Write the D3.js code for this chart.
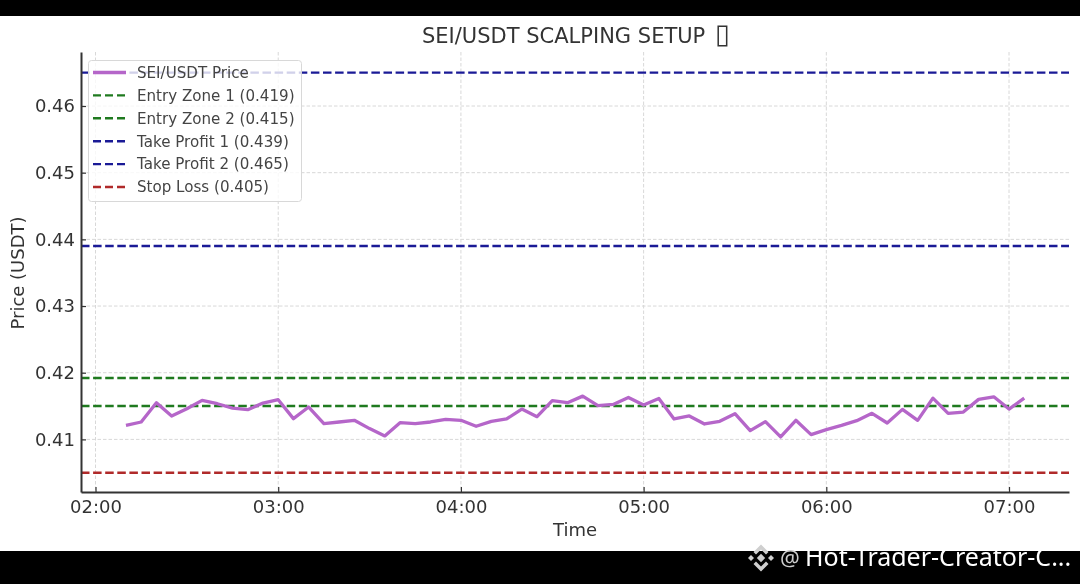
<!DOCTYPE html>
<html><head><meta charset="utf-8">
<style>
html,body{margin:0;padding:0;background:#fff;overflow:hidden}
svg{display:block;filter:blur(0.45px)}
text{font-family:"DejaVu Sans",sans-serif}
</style>
<script src="https://cdnjs.cloudflare.com/ajax/libs/d3/7.8.5/d3.min.js"></script>
</head><body>
<svg id="c" width="1080" height="584"></svg>
<script>
const times = ["02:10","02:15","02:20","02:25","02:30","02:35","02:40","02:45","02:50","02:55",
"03:00","03:05","03:10","03:15","03:20","03:25","03:30","03:35","03:40","03:45",
"03:50","03:55","04:00","04:05","04:10","04:15","04:20","04:25","04:30","04:35",
"04:40","04:45","04:50","04:55","05:00","05:05","05:10","05:15","05:20","05:25",
"05:30","05:35","05:40","05:45","05:50","05:55","06:00","06:05","06:10","06:15",
"06:20","06:25","06:30","06:35","06:40","06:45","06:50","06:55","07:00","07:05"];
const prices = [.41211,.41261,.41550,.41351,.41460,.41585,.41535,.41470,.41445,.41545,
.41595,.41311,.41485,.41236,.41261,.41286,.41162,.41052,.41251,.41236,
.41261,.41301,.41286,.41197,.41271,.41306,.41455,.41341,.41580,.41550,
.41649,.41505,.41525,.41629,.41515,.41614,.41306,.41351,.41231,.41271,
.41386,.41132,.41266,.41037,.41286,.41072,.41147,.41211,.41281,.41391,
.41246,.41450,.41286,.41619,.41391,.41410,.41600,.41639,.41455,.41619];
const levelNames = ["Entry Zone 1 (0.419)","Entry Zone 2 (0.415)","Take Profit 1 (0.439)","Take Profit 2 (0.465)","Stop Loss (0.405)"];
const levelValues = [0.4192,0.415,0.439,0.465,0.405];
const levelColors = ["#1f7a1f","#1f7a1f","#1a1a96","#1a1a96","#b02a2a"];
const yTicks = [0.41,0.42,0.43,0.44,0.45,0.46];
const xTicks = ["02:00","03:00","04:00","05:00","06:00","07:00"];
const xDomain = ["01:55:14","07:19:42"];
const yDomain = [0.40211,0.46810];
const titleMain = "SEI/USDT SCALPING SETUP ";
const titleGlyph = "\u25AF";
const seriesName = "SEI/USDT Price";

const parseT = d3.utcParse("%H:%M"), parseS = d3.utcParse("%H:%M:%S");
const L=81,R=1069,T=52,B=492;
const x = d3.scaleUtc().domain(xDomain.map(parseS)).range([L,R]);
const y = d3.scaleLinear().domain(yDomain).range([B,T]);
const svg = d3.select("#c");

svg.append("rect").attr("x",0).attr("y",0).attr("width",1080).attr("height",16).attr("fill","#000");
svg.append("rect").attr("x",0).attr("y",551).attr("width",1080).attr("height",33).attr("fill","#000");

const grid = svg.append("g").attr("stroke","#d8d8d8").attr("stroke-width",1).attr("stroke-dasharray","3.5,2");
grid.selectAll("line.v").data(xTicks).join("line").attr("class","v")
  .attr("x1",d=>x(parseT(d))).attr("x2",d=>x(parseT(d))).attr("y1",T).attr("y2",B);
grid.selectAll("line.h").data(yTicks).join("line").attr("class","h")
  .attr("y1",d=>y(d)).attr("y2",d=>y(d)).attr("x1",L).attr("x2",R);

svg.append("g").selectAll("line").data(levelValues).join("line")
  .attr("x1",L).attr("x2",R).attr("y1",d=>y(d)).attr("y2",d=>y(d))
  .attr("stroke",(d,i)=>levelColors[i]).attr("stroke-width",2.4).attr("stroke-dasharray","8.5,3.6");

const line = d3.line().x((d,i)=>x(parseT(times[i]))).y(d=>y(d));
svg.append("path").datum(prices).attr("d",line).attr("fill","none")
  .attr("stroke","#b566c9").attr("stroke-width",3.3).attr("stroke-linejoin","round");

const ax = d3.axisBottom(x).tickValues(xTicks.map(parseT)).tickFormat(d3.utcFormat("%H:%M")).tickSizeInner(-5).tickSizeOuter(0).tickPadding(8);
const ay = d3.axisLeft(y).tickValues(yTicks).tickFormat(d3.format(".2f")).tickSizeInner(-5).tickSizeOuter(0).tickPadding(6);
const gx = svg.append("g").attr("transform",`translate(0,${B})`).call(ax);
const gy = svg.append("g").attr("transform",`translate(${L},0)`).call(ay);
[gx,gy].forEach(g=>{
  g.select(".domain").attr("stroke","#333").attr("stroke-width",2);
  g.selectAll(".tick line").attr("stroke","#333").attr("stroke-width",1.2);
  g.selectAll(".tick text").attr("fill","#333").style("font-size","18px").style("font-family",'"DejaVu Sans"');
});

const ttl = svg.append("text").attr("x",422).attr("y",43).attr("fill","#333").style("font-size","21px");
ttl.append("tspan").text(titleMain);
ttl.append("tspan").attr("dx",3).style("font-size","27px").text(titleGlyph);
svg.append("text").attr("x",575).attr("y",536).attr("text-anchor","middle").attr("fill","#333").style("font-size","18px").text("Time");
svg.append("text").attr("transform","translate(24,273) rotate(-90)").attr("text-anchor","middle").attr("fill","#333").style("font-size","18px").text("Price (USDT)");

svg.append("rect").attr("x",88.5).attr("y",60.5).attr("width",213).attr("height",141).attr("rx",3)
  .attr("fill","#fff").attr("fill-opacity",.8).attr("stroke","#d8d8d8").attr("stroke-width",1);
const rows = [{n:seriesName,c:"#b566c9",w:3.3,dash:null}].concat(levelNames.map((n,i)=>({n,c:levelColors[i],w:2.4,dash:"8,4"})));
const lg = svg.append("g").selectAll("g").data(rows).join("g").attr("transform",(d,i)=>`translate(0,${72.5+i*22.9})`);
lg.append("line").attr("x1",93).attr("x2",126).attr("stroke",d=>d.c).attr("stroke-width",d=>d.w).attr("stroke-dasharray",d=>d.dash);
lg.append("text").attr("x",137).attr("y",5.3).attr("fill","#444").style("font-size","15.1px").text(d=>d.n);

// watermark
const logo = svg.append("g").attr("transform","translate(761,558)").attr("fill","#cfcfcf");
const logoPaths = [
 "M0,-4.2L4.2,0L0,4.2L-4.2,0Z",
 "M-10,-3L-7,0L-10,3L-13,0Z","M10,-3L13,0L10,3L7,0Z",
 "M0,-13.5L7.5,-6L5,-3.5L0,-8.5L-5,-3.5L-7.5,-6Z",
 "M0,13.5L7.5,6L5,3.5L0,8.5L-5,3.5L-7.5,6Z"];
logo.selectAll("path").data(logoPaths).join("path").attr("d",d=>d);
svg.append("text").attr("x",780).attr("y",566).attr("fill","#ccc").style("font-family",'"Noto Sans"').style("font-size","22px").text("@");
svg.append("text").attr("x",805).attr("y",566).attr("fill","#fff").style("font-family",'"Noto Sans"').style("font-size","25px").text("Hot-Trader-Creator-C...");
</script>
</body></html>
